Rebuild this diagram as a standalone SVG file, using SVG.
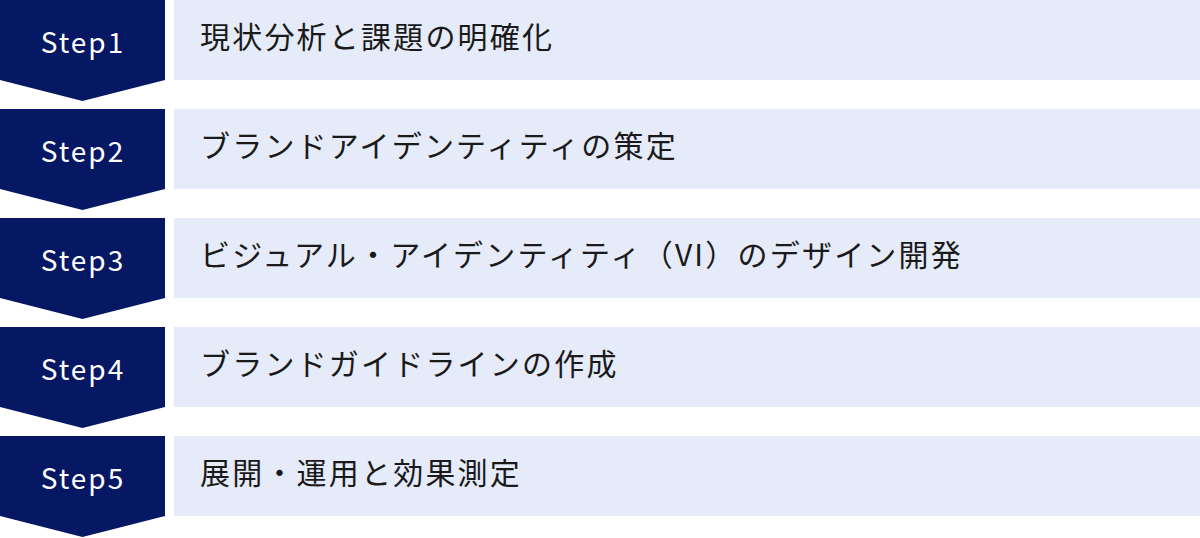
<svg xmlns="http://www.w3.org/2000/svg" width="1200" height="538" viewBox="0 0 1200 538">
<style>
.chev{fill:#061763}
.box{fill:#E5EBF8}
.lbl{font-family:"Noto Sans CJK JP","Noto Sans",sans-serif;font-size:28px;fill:#ffffff;text-anchor:middle;letter-spacing:2px}
.txt{font-family:"Noto Sans CJK JP","Noto Sans",sans-serif;font-size:30px;fill:#1a1a1a;letter-spacing:2.2px}
</style>
<rect width="1200" height="538" fill="#ffffff"/>
<g id="step1" transform="translate(0,0)">
<polygon class="chev" points="0,0 165,0 165,80 82.5,101 0,80"/>
<rect class="box" x="174" y="0" width="1026" height="80"/>
<text class="lbl" x="83" y="53">Step1</text>
<text class="txt" x="200" y="48">現状分析と課題の明確化</text>
</g>
<g id="step2" transform="translate(0,109)">
<polygon class="chev" points="0,0 165,0 165,80 82.5,101 0,80"/>
<rect class="box" x="174" y="0" width="1026" height="80"/>
<text class="lbl" x="83" y="53">Step2</text>
<text class="txt" x="200" y="48">ブランドアイデンティティの策定</text>
</g>
<g id="step3" transform="translate(0,218)">
<polygon class="chev" points="0,0 165,0 165,80 82.5,101 0,80"/>
<rect class="box" x="174" y="0" width="1026" height="80"/>
<text class="lbl" x="83" y="53">Step3</text>
<text class="txt" x="200" y="48">ビジュアル・アイデンティティ（VI）のデザイン開発</text>
</g>
<g id="step4" transform="translate(0,327)">
<polygon class="chev" points="0,0 165,0 165,80 82.5,101 0,80"/>
<rect class="box" x="174" y="0" width="1026" height="80"/>
<text class="lbl" x="83" y="53">Step4</text>
<text class="txt" x="200" y="48">ブランドガイドラインの作成</text>
</g>
<g id="step5" transform="translate(0,436)">
<polygon class="chev" points="0,0 165,0 165,80 82.5,101 0,80"/>
<rect class="box" x="174" y="0" width="1026" height="80"/>
<text class="lbl" x="83" y="53">Step5</text>
<text class="txt" x="200" y="48">展開・運用と効果測定</text>
</g>
<g id="connectors"></g>
</svg>
